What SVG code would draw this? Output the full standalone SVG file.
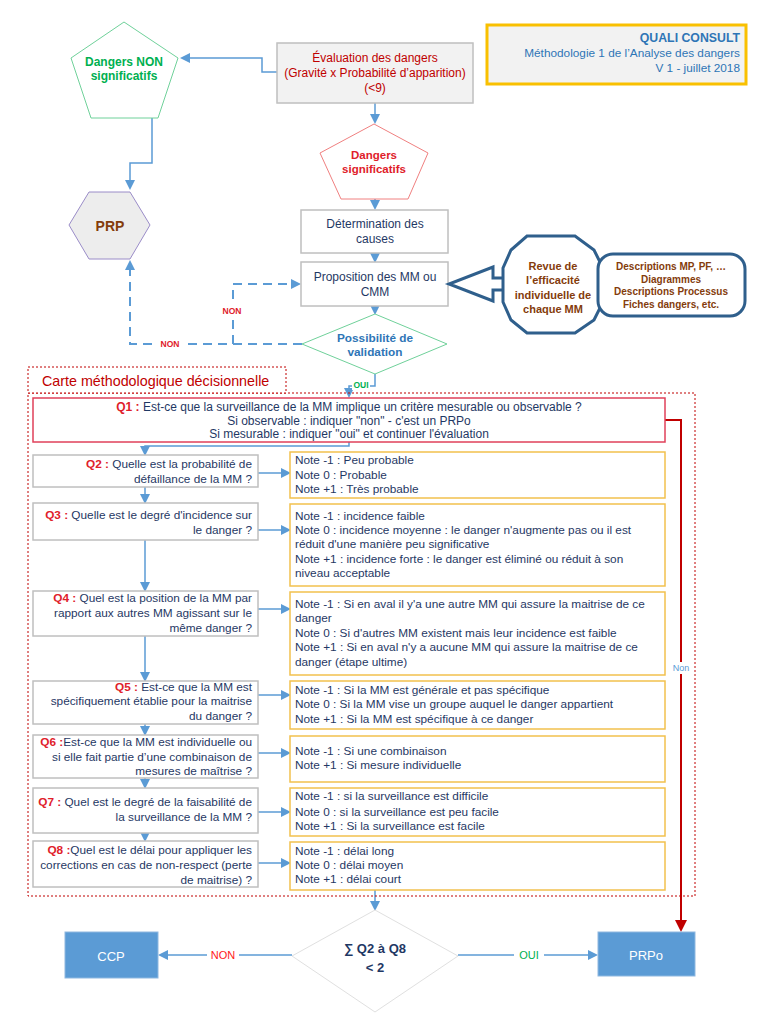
<svg xmlns="http://www.w3.org/2000/svg" width="768" height="1024" viewBox="0 0 768 1024">
<defs>
<marker id="ab" markerWidth="10" markerHeight="10" refX="8" refY="5" orient="auto" markerUnits="userSpaceOnUse"><path d="M0,0 L10,5 L0,10 z" fill="#5B9BD5"/></marker>
<marker id="ar" markerWidth="12" markerHeight="12" refX="10" refY="6" orient="auto" markerUnits="userSpaceOnUse"><path d="M0,0 L12,6 L0,12 z" fill="#C00000"/></marker>
<style>
text{font-family:"Liberation Sans",Arial,sans-serif;}
.c{stroke:#5B9BD5;stroke-width:1.5;fill:none;}
.d{stroke:#5B9BD5;stroke-width:2;fill:none;stroke-dasharray:9,6;}
.gb{fill:#fff;stroke:#BFBFBF;stroke-width:1.5;}
.nb{fill:#fff;stroke:#F2C14E;stroke-width:1.5;}
.q{font-size:11.8px;fill:#1F3864;text-anchor:end;}
.n{font-size:11.8px;fill:#1F3864;}
.qr{fill:#E0202A;font-weight:bold;}
.nav{fill:#1F3864;font-size:12px;text-anchor:middle;}
</style>
</defs>
<rect width="768" height="1024" fill="#fff"/>

<g id="title">
<rect x="487" y="25" width="259" height="59" fill="#F2F2F2" stroke="#F9C000" stroke-width="3"/>
<text x="740" y="42" font-size="12.3" font-weight="bold" fill="#2E75B6" text-anchor="end">QUALI CONSULT</text>
<text x="740" y="57" font-size="11.8" fill="#2E75B6" text-anchor="end">Méthodologie 1 de l’Analyse des dangers</text>
<text x="740" y="72" font-size="11.8" fill="#2E75B6" text-anchor="end">V 1 - juillet 2018</text>
</g>

<g id="connectors">
<path class="c" d="M277,72 H262 V58 H182" marker-end="url(#ab)"/>
<path class="c" d="M152,118 V163 H130 V188" marker-end="url(#ab)"/>
<path class="c" d="M375,103 V122" marker-end="url(#ab)"/>
<path class="c" d="M375,199 V208" marker-end="url(#ab)"/>
<path class="c" d="M375,253 V261" marker-end="url(#ab)"/>
<path class="c" d="M375,306 V313" marker-end="url(#ab)"/>
<path class="d" d="M302,344 H130 V262" marker-end="url(#ab)"/>
<path class="d" d="M233,344 V284 H299" marker-end="url(#ab)"/>
<path class="c" d="M375,374 V386 H349 V396" marker-end="url(#ab)"/>
<path class="c" d="M349,442 V446 H145 V454" marker-end="url(#ab)"/>
<path class="c" d="M145,487 V502" marker-end="url(#ab)"/>
<path class="c" d="M145,540 V590" marker-end="url(#ab)"/>
<path class="c" d="M145,636 V680" marker-end="url(#ab)"/>
<path class="c" d="M145,724 V734" marker-end="url(#ab)"/>
<path class="c" d="M145,778 V787" marker-end="url(#ab)"/>
<path class="c" d="M145,833 V840" marker-end="url(#ab)"/>
<path class="c" d="M258,473 H289" marker-end="url(#ab)"/>
<path class="c" d="M258,530 H289" marker-end="url(#ab)"/>
<path class="c" d="M258,609 H289" marker-end="url(#ab)"/>
<path class="c" d="M258,695 H289" marker-end="url(#ab)"/>
<path class="c" d="M258,753 H289" marker-end="url(#ab)"/>
<path class="c" d="M258,812 H289" marker-end="url(#ab)"/>
<path class="c" d="M258,863 H289" marker-end="url(#ab)"/>
<path class="c" d="M375,890 V909" marker-end="url(#ab)"/>
<path class="c" d="M292,955 H160" marker-end="url(#ab)"/>
<path class="c" d="M458,955 H596" marker-end="url(#ab)"/>
<path d="M665,420 H681 V930" stroke="#C00000" stroke-width="2" fill="none" marker-end="url(#ar)"/>
<rect x="668" y="662" width="26" height="12" fill="#fff"/>
<text x="681" y="671" font-size="9" fill="#5B9BD5" text-anchor="middle">Non</text>
<rect x="158" y="339" width="24" height="10" fill="#fff"/>
<text x="170" y="347" font-size="8.5" font-weight="bold" fill="#E0202A" text-anchor="middle">NON</text>
<rect x="220" y="305" width="26" height="11" fill="#fff"/>
<text x="232" y="314" font-size="8.5" font-weight="bold" fill="#E0202A" text-anchor="middle">NON</text>
<rect x="352" y="380" width="18" height="10" fill="#fff"/>
<text x="361" y="388" font-size="8.5" font-weight="bold" fill="#00B050" text-anchor="middle">OUI</text>
<rect x="207" y="948" width="32" height="14" fill="#fff"/>
<text x="223" y="959" font-size="11" fill="#FF2020" text-anchor="middle">NON</text>
<rect x="514" y="948" width="30" height="14" fill="#fff"/>
<text x="529" y="959" font-size="11" fill="#00B050" text-anchor="middle">OUI</text>
</g>

<g id="evaluation">
<rect x="277" y="43" width="196" height="60" fill="#F2F2F2" stroke="#BFBFBF" stroke-width="1.5"/>
<text x="375" y="62" font-size="12" fill="#C00000" text-anchor="middle">Évaluation des dangers</text>
<text x="375" y="77" font-size="12" fill="#C00000" text-anchor="middle">(Gravité x Probabilité d’apparition)</text>
<text x="375" y="92" font-size="12" fill="#C00000" text-anchor="middle">(&lt;9)</text>
</g>

<g id="dangers-non">
<polygon points="124,22 178,58 158,118 91,118 71,58" fill="#fff" stroke="#6FD19A" stroke-width="1"/>
<text x="124" y="66" font-size="12" font-weight="bold" fill="#00B050" text-anchor="middle">Dangers NON</text>
<text x="124" y="80" font-size="12" font-weight="bold" fill="#00B050" text-anchor="middle">significatifs</text>
</g>

<g id="prp">
<polygon points="69,225 89,192 130,192 150,225 130,259 89,259" fill="#EDEDED" stroke="#9A8CC8" stroke-width="1"/>
<text x="110" y="231" font-size="14" font-weight="bold" fill="#843C0C" text-anchor="middle">PRP</text>
</g>

<g id="dangers-sig">
<polygon points="374,124 428,153 408,199 341,199 320,153" fill="#fff" stroke="#F08080" stroke-width="1"/>
<text x="374" y="159" font-size="11.5" font-weight="bold" fill="#E0202A" text-anchor="middle">Dangers</text>
<text x="374" y="173" font-size="11.5" font-weight="bold" fill="#E0202A" text-anchor="middle">significatifs</text>
</g>

<g id="determination">
<rect x="301" y="210" width="147" height="43" class="gb"/>
<text class="nav" x="375" y="228">Détermination des</text>
<text class="nav" x="375" y="243">causes</text>
</g>

<g id="proposition">
<rect x="301" y="262" width="147" height="44" class="gb"/>
<text class="nav" x="375" y="281">Proposition des MM ou</text>
<text class="nav" x="375" y="296">CMM</text>
</g>

<g id="validation">
<polygon points="375,314 447,344 375,374 302,344" fill="#fff" stroke="#6FD19A" stroke-width="1"/>
<text x="375" y="342" font-size="11.8" font-weight="bold" fill="#2E75B6" text-anchor="middle">Possibilité de</text>
<text x="375" y="356" font-size="11.8" font-weight="bold" fill="#2E75B6" text-anchor="middle">validation</text>
</g>

<g id="revue">
<path d="M508,278 H493 V267 L449,284 L493,301 V290 H508" fill="#fff" stroke="#2F5F8C" stroke-width="3" stroke-linejoin="miter"/>
<polygon points="527,236 575,236 594,250 603,268 603,302 594,320 575,333 527,333 511,320 503,302 503,268 511,250" fill="#fff" stroke="#2F5F8C" stroke-width="3"/>
<text x="553" y="270" font-size="11" font-weight="bold" fill="#843C0C" text-anchor="middle">Revue de</text>
<text x="553" y="284" font-size="11" font-weight="bold" fill="#843C0C" text-anchor="middle">l’efficacité</text>
<text x="553" y="299" font-size="11" font-weight="bold" fill="#843C0C" text-anchor="middle">individuelle de</text>
<text x="553" y="313" font-size="11" font-weight="bold" fill="#843C0C" text-anchor="middle">chaque MM</text>
</g>

<g id="descriptions">
<rect x="598" y="254" width="147" height="62" rx="15" fill="#fff" stroke="#2F5F8C" stroke-width="3"/>
<text x="671" y="270" font-size="10" font-weight="bold" fill="#843C0C" text-anchor="middle">Descriptions MP, PF, …</text>
<text x="671" y="283" font-size="10" font-weight="bold" fill="#843C0C" text-anchor="middle">Diagrammes</text>
<text x="671" y="295" font-size="10" font-weight="bold" fill="#843C0C" text-anchor="middle">Descriptions Processus</text>
<text x="671" y="308" font-size="10" font-weight="bold" fill="#843C0C" text-anchor="middle">Fiches dangers, etc.</text>
</g>

<g id="carte">
<rect x="28" y="393" width="667" height="503" fill="none" stroke="#C00000" stroke-width="1" stroke-dasharray="2,2"/>
<rect x="28" y="367" width="258" height="26" fill="#fff" stroke="#C00000" stroke-width="1" stroke-dasharray="2,2"/>
<text x="42" y="386" font-size="14.3" fill="#C00000">Carte méthodologique décisionnelle</text>
</g>

<g id="q1">
<rect x="33" y="398" width="632" height="44" fill="#fff" stroke="#E0405A" stroke-width="1.5"/>
<text x="349" y="411" font-size="12" fill="#1F3864" text-anchor="middle"><tspan class="qr">Q1 :</tspan> Est-ce que la surveillance de la MM implique un critère mesurable ou observable ?</text>
<text x="349" y="424.5" font-size="12" fill="#1F3864" text-anchor="middle">Si observable : indiquer "non" - c'est un PRPo</text>
<text x="349" y="438" font-size="12" fill="#1F3864" text-anchor="middle">Si mesurable : indiquer "oui" et continuer l'évaluation</text>
</g>

<g id="q2">
<rect x="33" y="455" width="225" height="32" class="gb"/>
<text class="q" x="252" y="468"><tspan class="qr">Q2 :</tspan> Quelle est la probabilité de</text>
<text class="q" x="252" y="483">défaillance de la MM ?</text>
</g>
<g id="n2">
<rect x="290" y="452" width="375" height="46" class="nb"/>
<text class="n" x="295" y="464">Note -1 : Peu probable</text>
<text class="n" x="295" y="479">Note 0 : Probable</text>
<text class="n" x="295" y="493">Note +1 : Très probable</text>
</g>

<g id="q3">
<rect x="33" y="503" width="225" height="37" class="gb"/>
<text class="q" x="252" y="519"><tspan class="qr">Q3 :</tspan> Quelle est le degré d'incidence sur</text>
<text class="q" x="252" y="534">le danger ?</text>
</g>
<g id="n3">
<rect x="290" y="504" width="375" height="82" class="nb"/>
<text class="n" x="295" y="520">Note -1 : incidence faible</text>
<text class="n" x="295" y="534">Note 0 : incidence moyenne : le danger n'augmente pas ou il est</text>
<text class="n" x="295" y="548">réduit d'une manière peu significative</text>
<text class="n" x="295" y="563">Note +1 : incidence forte : le danger est éliminé ou réduit à son</text>
<text class="n" x="295" y="577">niveau acceptable</text>
</g>

<g id="q4">
<rect x="33" y="591" width="225" height="45" class="gb"/>
<text class="q" x="252" y="602"><tspan class="qr">Q4 :</tspan> Quel est la position de la MM par</text>
<text class="q" x="252" y="617">rapport aux autres MM agissant sur le</text>
<text class="q" x="252" y="632">même danger ?</text>
</g>
<g id="n4">
<rect x="290" y="592" width="375" height="83" class="nb"/>
<text class="n" x="295" y="608">Note -1 : Si en aval il y'a une autre MM qui assure la maitrise de ce</text>
<text class="n" x="295" y="622">danger</text>
<text class="n" x="295" y="637">Note 0 : Si d'autres MM existent mais leur incidence est faible</text>
<text class="n" x="295" y="651">Note +1 : Si en aval n'y a aucune MM qui assure la maitrise de ce</text>
<text class="n" x="295" y="666">danger (étape ultime)</text>
</g>

<g id="q5">
<rect x="33" y="681" width="225" height="43" class="gb"/>
<text class="q" x="252" y="691"><tspan class="qr">Q5 :</tspan> Est-ce que la MM est</text>
<text class="q" x="252" y="705">spécifiquement établie pour la maitrise</text>
<text class="q" x="252" y="720">du danger ?</text>
</g>
<g id="n5">
<rect x="290" y="681" width="375" height="48" class="nb"/>
<text class="n" x="295" y="694">Note -1 : Si la MM est générale et pas spécifique</text>
<text class="n" x="295" y="708">Note 0 : Si la MM vise un groupe auquel le danger appartient</text>
<text class="n" x="295" y="723">Note +1 : Si la MM est spécifique à ce danger</text>
</g>

<g id="q6">
<rect x="33" y="735" width="225" height="43" class="gb"/>
<text class="q" x="252" y="746"><tspan class="qr">Q6 :</tspan>Est-ce que la MM est  individuelle ou</text>
<text class="q" x="252" y="761">si elle fait partie d’une combinaison de</text>
<text class="q" x="252" y="775">mesures de maîtrise ?</text>
</g>
<g id="n6">
<rect x="290" y="736" width="375" height="46" class="nb"/>
<text class="n" x="295" y="755">Note -1 : Si une combinaison</text>
<text class="n" x="295" y="769">Note +1 : Si mesure individuelle</text>
</g>

<g id="q7">
<rect x="33" y="788" width="225" height="45" class="gb"/>
<text class="q" x="252" y="806"><tspan class="qr">Q7 :</tspan> Quel est le degré de la faisabilité de</text>
<text class="q" x="252" y="821">la surveillance de la MM ?</text>
</g>
<g id="n7">
<rect x="290" y="788" width="375" height="48" class="nb"/>
<text class="n" x="295" y="800">Note -1 : si la surveillance est difficile</text>
<text class="n" x="295" y="816">Note 0 : si la surveillance est peu facile</text>
<text class="n" x="295" y="830">Note +1 : Si la surveillance est facile</text>
</g>

<g id="q8">
<rect x="33" y="841" width="225" height="46" class="gb"/>
<text class="q" x="252" y="854"><tspan class="qr">Q8 :</tspan>Quel est le délai pour appliquer les</text>
<text class="q" x="252" y="869">corrections en cas de non-respect (perte</text>
<text class="q" x="252" y="884">de maitrise) ?</text>
</g>
<g id="n8">
<rect x="290" y="842" width="375" height="48" class="nb"/>
<text class="n" x="295" y="855">Note -1 : délai long</text>
<text class="n" x="295" y="869">Note 0 : délai moyen</text>
<text class="n" x="295" y="883">Note +1 : délai court</text>
</g>

<g id="somme">
<polygon points="375,910 458,956 375,1012 292,956" fill="#fff" stroke="#E0E0E0" stroke-width="1"/>
<text x="375" y="953" font-size="13" font-weight="bold" fill="#1F3864" text-anchor="middle">∑ Q2 à Q8</text>
<text x="375" y="972" font-size="13" font-weight="bold" fill="#1F3864" text-anchor="middle">&lt; 2</text>
</g>

<g id="ccp">
<rect x="65" y="932" width="93" height="46" fill="#5B9BD5" stroke="#8FB8E0" stroke-width="1"/>
<text x="111" y="961" font-size="13" fill="#fff" text-anchor="middle">CCP</text>
</g>

<g id="prpo">
<rect x="598" y="932" width="97" height="44" fill="#5B9BD5" stroke="#8FB8E0" stroke-width="1"/>
<text x="646" y="960" font-size="13" fill="#fff" text-anchor="middle">PRPo</text>
</g>
</svg>
